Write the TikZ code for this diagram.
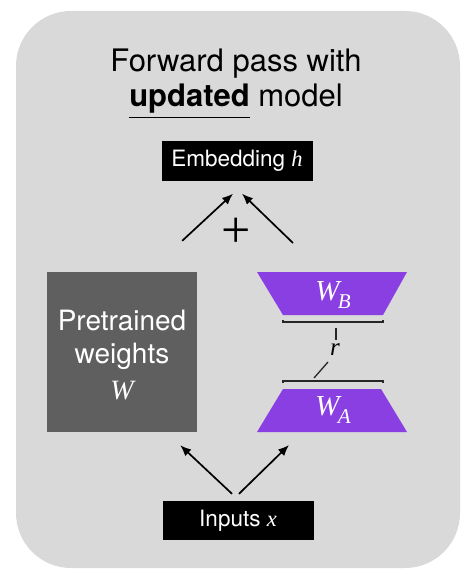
\documentclass[tikz,border=0pt]{standalone}
\usepackage{amsmath}
\usepackage{fontspec}
\setmainfont{TeX Gyre Heros}
\newfontfamily\lettfont{Liberation Serif}
\usepackage{tikz}
\usetikzlibrary{calc,positioning,arrows.meta}
\definecolor{panel}{RGB}{217,217,217}
\definecolor{frozen}{RGB}{95,95,95}
\definecolor{lora}{RGB}{137,63,226}
\newcommand{\vari}[1]{{\lettfont\itshape #1}}
\newcommand{\varsub}[2]{\vari{#1}\kern-1.5pt\raisebox{-0.3em}{\fontsize{21}{21}\selectfont\vari{#2}}}

\begin{document}
\begin{tikzpicture}[x=1pt,y=-1pt,
  blk/.style={fill=black,text=white,minimum width=151pt,minimum height=39pt,inner sep=0pt,font=\fontsize{22.5}{24}\selectfont},
  arr/.style={-{Latex[length=11pt,width=9pt]},line width=1.7pt},
  brk/.style={line width=1.3pt,draw=black!85},
  wlab/.style={text=white,font=\fontsize{29}{29}\selectfont}]
  \useasboundingbox (0,0) rectangle (474,580);
  \fill[panel,rounded corners=55pt] (16,11) rectangle (460,568);

  \node[font=\fontsize{31}{35}\selectfont,align=center] (title) at (236,84) {Forward pass with\\\underline{\textbf{updated}} model};

  \node[blk] (emb) at (237,161) {Embedding \vari{h}};
  \node[blk] (inp) at (238,520.5) {Inputs \vari{x}};
  \node[fill=frozen,text=white,minimum width=150pt,minimum height=160pt,align=center,font=\fontsize{28}{33}\selectfont] (pre) at (122,352) {};
  \node[text=white,align=center,font=\fontsize{28}{33}\selectfont] (pre-txt) at ([yshift=-3pt]pre.center) {Pretrained\\weights\\[3pt]\vari{W}};

  % low-rank part
  \fill[lora] (257,272) coordinate (wb-nw) -- (407,272) -- (383,315) -- (283,315) -- cycle;
  \node[wlab] (wb) at (333,295) {\varsub{W}{B}};
  \fill[lora] (283,389) -- (381,389) -- (407,432) -- (257,432) coordinate (wa-sw) -- cycle;
  \node[wlab] (wa) at (333,410) {\varsub{W}{A}};

  \coordinate (rb) at (333,322);
  \coordinate (ra) at (333,381);
  \draw[brk] ([xshift=-50pt,yshift=2pt]rb) -- ([xshift=-50pt]rb) -- ([xshift=50pt]rb) -- ([xshift=50pt,yshift=2pt]rb);
  \draw[brk] ([xshift=-50pt,yshift=-2pt]ra) -- ([xshift=-50pt]ra) -- ([xshift=50pt]ra) -- ([xshift=50pt,yshift=-2pt]ra);
  \node[font=\fontsize{25}{25}\selectfont,inner sep=1pt] (r) at (335,350) {\vari{r}};
  \draw[brk] ([xshift=3pt,yshift=-6pt]rb) -- ([xshift=3pt,yshift=-18pt]rb);
  \draw[brk] ([xshift=-5pt,yshift=-40pt]rb) -- ([xshift=-19pt,yshift=3pt]ra);

  \node[font=\fontsize{52}{52}\selectfont] (plus) at (236,233) {\lettfont +};

  \draw[arr] ([xshift=-6pt,yshift=7pt]inp.north) -- ([xshift=-17pt,yshift=-13pt]pre.south east);
  \draw[arr] ([xshift=1pt,yshift=7pt]inp.north) -- ([xshift=32pt,yshift=-13pt]wa-sw);
  \draw[arr] ([xshift=-15pt,yshift=31pt]pre.north east) -- ([xshift=-4pt,yshift=-13pt]emb.south);
  \draw[arr] ([xshift=36pt,yshift=29pt]wb-nw) -- ([xshift=5pt,yshift=-13pt]emb.south);
\end{tikzpicture}
\end{document}
